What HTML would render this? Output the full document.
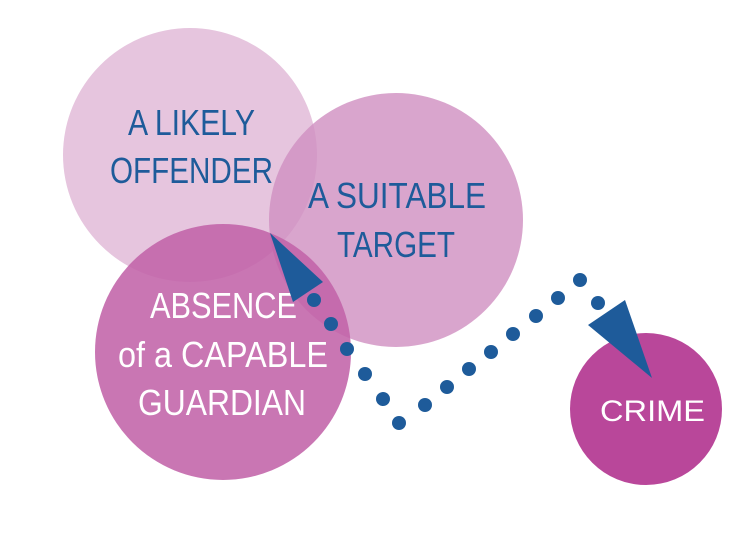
<!DOCTYPE html>
<html><head><style>
html,body{margin:0;padding:0;background:#fff;}
svg{display:block}
text{font-family:"Liberation Sans",sans-serif;}
</style></head><body>
<svg width="750" height="550" viewBox="0 0 750 550">
<circle cx="190" cy="155" r="127" fill="#e6c5de"/>
<circle cx="396" cy="220" r="127" fill="#cf8ec0" opacity="0.8"/>
<circle cx="223" cy="352" r="128" fill="#c263a8" opacity="0.88"/>
<circle cx="646" cy="409" r="76" fill="#b9479a"/>
<g fill="#1e5b9a" font-size="36">
<text x="128" y="135" textLength="127" lengthAdjust="spacingAndGlyphs">A LIKELY</text>
<text x="110" y="183" textLength="163" lengthAdjust="spacingAndGlyphs">OFFENDER</text>
<text x="308" y="208" textLength="178" lengthAdjust="spacingAndGlyphs">A SUITABLE</text>
<text x="337" y="257" textLength="118" lengthAdjust="spacingAndGlyphs">TARGET</text>
</g>
<g fill="#ffffff" font-size="36">
<text x="150" y="318" textLength="147" lengthAdjust="spacingAndGlyphs">ABSENCE</text>
<text x="118" y="367" textLength="210" lengthAdjust="spacingAndGlyphs">of a CAPABLE</text>
<text x="138" y="415" textLength="168" lengthAdjust="spacingAndGlyphs">GUARDIAN</text>
</g>
<text x="600" y="421" fill="#fff" font-size="30" textLength="105" lengthAdjust="spacingAndGlyphs">CRIME</text>
<g fill="#1e5b9a">
<circle cx="314" cy="300" r="7"/><circle cx="331" cy="324" r="7"/><circle cx="347" cy="349" r="7"/>
<circle cx="365" cy="374" r="7"/><circle cx="383" cy="399" r="7"/><circle cx="399" cy="423" r="7"/>
<circle cx="425" cy="405" r="7"/><circle cx="447" cy="387" r="7"/><circle cx="469" cy="369" r="7"/>
<circle cx="491" cy="352" r="7"/><circle cx="513" cy="334" r="7"/><circle cx="536" cy="316" r="7"/>
<circle cx="558" cy="298" r="7"/><circle cx="580" cy="280" r="7"/><circle cx="598" cy="303" r="7"/>
<polygon points="270,233 323,282 293,302"/>
<polygon points="652,378 588,325 625,300"/>
</g>
</svg>
</body></html>
